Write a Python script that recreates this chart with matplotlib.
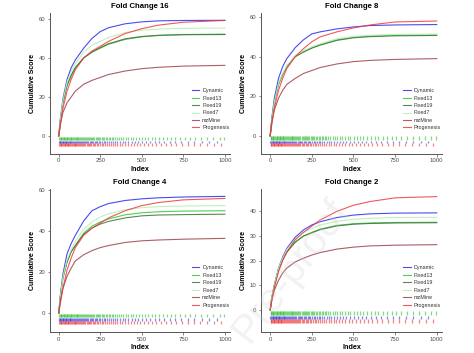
import matplotlib
matplotlib.use("Agg")
import matplotlib.pyplot as plt

plt.rcParams['font.family'] = ['Liberation Sans', 'DejaVu Sans']

# ---------------- data ----------------
index_pts = [0, 10, 25, 50, 75, 100, 150, 200, 250, 300, 400, 500, 600, 750, 1000]
methods = ["Dynamic", "Fixed13", "Fixed19", "Fixed7", "mzMine", "Progenesis"]
titles = ["Fold Change 16", "Fold Change 8", "Fold Change 4", "Fold Change 2"]

fc16_dynamic = [0, 9, 19, 29, 35, 39, 45, 50, 53.5, 55.5, 57.5, 58.5, 59, 59.2, 59.3]
fc16_fixed13 = [0, 8, 17, 26, 31, 35, 40, 43, 45, 47, 49.5, 50.8, 51.5, 52, 52.2]
fc16_fixed19 = [0, 8, 17, 26, 31, 35, 40, 43, 45.3, 47.3, 49.8, 51, 51.6, 51.9, 52]
fc16_fixed7 = [0, 8.5, 18, 27.5, 33, 37, 43, 46.5, 48.5, 50.5, 53, 54.2, 54.8, 55.2, 55.3]
fc16_mzmine = [0, 6, 12, 17, 20, 23, 26.5, 28.5, 30, 31.5, 33.3, 34.5, 35.2, 35.8, 36.2]
fc16_progenesis = [0, 6, 14, 23, 29, 34, 40, 43.5, 46, 48.5, 52.5, 55, 56.8, 58.3, 59.2]

fc8_dynamic = [0, 9, 19, 29, 35, 39, 44.5, 48.5, 51.5, 52.5, 54, 55, 55.7, 56, 56.2]
fc8_fixed13 = [0, 8, 17, 26, 31, 35, 40, 42.5, 44.5, 46, 48.5, 49.8, 50.4, 50.8, 51]
fc8_fixed19 = [0, 8, 17, 26, 31, 35, 40, 42.3, 44.3, 45.8, 48.2, 49.5, 50.1, 50.5, 50.7]
fc8_fixed7 = [0, 8, 17, 26.5, 31.5, 35.5, 40.5, 43, 45, 46.5, 49, 50.2, 50.8, 51.2, 51.4]
fc8_mzmine = [0, 7, 13, 19, 23, 26, 29, 31.5, 33, 34.5, 36.3, 37.5, 38.1, 38.6, 39]
fc8_progenesis = [0, 6, 14, 23, 29, 34, 40, 44, 47.5, 50, 52.5, 54.5, 56, 57.5, 58]

fc4_dynamic = [0, 9, 19, 29, 34, 38, 45, 50, 52, 53.5, 55, 55.8, 56.3, 56.7, 57]
fc4_fixed13 = [0, 8, 17, 25, 30, 33, 39, 42.5, 44.5, 46, 48, 49, 49.5, 49.8, 50]
fc4_fixed19 = [0, 8, 17, 25, 30, 33, 38.5, 41.5, 43.5, 44.8, 46.5, 47.5, 47.9, 48.1, 48.3]
fc4_fixed7 = [0, 8, 17.5, 26, 31, 35, 41, 44.5, 47, 48.5, 50.5, 51.5, 52, 52.3, 52.5]
fc4_mzmine = [0, 6, 12, 18, 22, 25.5, 28.5, 30.5, 32, 33, 34.5, 35.3, 35.7, 36.1, 36.5]
fc4_progenesis = [0, 5, 12, 21, 27, 32, 38, 41.5, 44, 46.5, 50, 52.5, 54, 55.3, 56]

fc2_dynamic = [0, 5, 10, 17, 21.5, 25, 29.5, 32.5, 34.5, 35.8, 37.5, 38.5, 39, 39.3, 39.4]
fc2_fixed13 = [0, 5, 10, 16.5, 20.5, 23.5, 27.5, 30, 31.5, 32.8, 34.3, 35, 35.3, 35.5, 35.6]
fc2_fixed19 = [0, 5, 10, 16.5, 20.5, 23.5, 27.5, 30, 31.3, 32.6, 34.1, 34.8, 35.1, 35.3, 35.4]
fc2_fixed7 = [0, 5, 10, 17, 21, 24.5, 28.5, 31.5, 33, 34.5, 36, 36.8, 37.2, 37.5, 37.6]
fc2_mzmine = [0, 4, 8, 12, 15, 17, 19.5, 21, 22.3, 23.3, 24.7, 25.5, 26, 26.3, 26.5]
fc2_progenesis = [0, 4, 9, 15.5, 20, 23.5, 28.5, 31.5, 34, 36.5, 40, 42.5, 44, 45.5, 46]

# rug positions (indices of hits) shown below zero
rug_green = [2, 6, 11, 15, 19, 24, 29, 33, 38, 42, 47, 52, 57, 61, 66, 71, 75, 80, 86, 91,
             96, 101, 107, 112, 118, 123, 129, 134, 140, 146, 152, 158, 163, 170, 176, 182,
             189, 195, 202, 208, 215, 222, 229, 236, 243, 251, 258, 266, 274, 282, 291, 300,
             309, 318, 328, 338, 349, 362, 375, 389, 402, 418, 433, 448, 466, 482, 501, 520,
             538, 560, 581, 603, 627, 650, 676, 702, 730, 758, 788, 820, 856, 893, 930, 968, 995]
rug_blue = [1, 5, 9, 14, 18, 23, 27, 32, 37, 41, 46, 51, 56, 60, 65, 70, 75, 81, 86, 92,
            97, 103, 109, 114, 120, 126, 132, 139, 145, 151, 158, 165, 172, 179, 186, 194,
            201, 209, 217, 225, 233, 242, 251, 261, 270, 280, 291, 302, 314, 326, 339, 353,
            368, 384, 401, 419, 438, 458, 479, 502, 526, 551, 578, 606, 636, 668, 702, 738,
            776, 817, 860, 905, 950]
rug_red = [3, 7, 12, 16, 21, 25, 30, 35, 39, 44, 49, 54, 58, 63, 68, 73, 78, 84, 89, 95,
           100, 106, 111, 117, 123, 129, 135, 141, 148, 154, 161, 168, 175, 182, 190, 197,
           205, 213, 221, 230, 239, 248, 258, 268, 278, 289, 300, 312, 324, 337, 351, 366,
           381, 397, 414, 432, 451, 471, 492, 514, 537, 561, 587, 614, 643, 673, 705, 739,
           775, 812, 852, 893, 935, 975]

panels = [
    [fc16_dynamic, fc16_fixed13, fc16_fixed19, fc16_fixed7, fc16_mzmine, fc16_progenesis],
    [fc8_dynamic, fc8_fixed13, fc8_fixed19, fc8_fixed7, fc8_mzmine, fc8_progenesis],
    [fc4_dynamic, fc4_fixed13, fc4_fixed19, fc4_fixed7, fc4_mzmine, fc4_progenesis],
    [fc2_dynamic, fc2_fixed13, fc2_fixed19, fc2_fixed7, fc2_mzmine, fc2_progenesis],
]

# ---------------- style ----------------
colors = ["#2b2bf0", "#2ccc2c", "#3f6f3f", "#b9efb9", "#a0404c", "#f03a3a"]
line_alpha = [0.85, 0.85, 0.85, 0.9, 0.85, 0.85]

positions = [
    [0.105, 0.564, 0.380, 0.399],
    [0.551, 0.564, 0.381, 0.399],
    [0.105, 0.059, 0.380, 0.405],
    [0.551, 0.059, 0.381, 0.405],
]
ylims = [(-9.2, 63), (-9.1, 62), (-9.3, 60.5), (-9.0, 49)]
yticks = [[0, 20, 40, 60], [0, 20, 40, 60], [0, 20, 40, 60], [0, 10, 20, 30, 40]]

grey = "#4d4d4d"
fig = plt.figure(figsize=(4.74, 3.53), dpi=100)

for p in range(4):
    ax = fig.add_axes(positions[p])
    for m, name in enumerate(methods):
        ax.plot(index_pts, panels[p][m], color=colors[m], lw=0.8,
                alpha=line_alpha[m], label=name, zorder=3)
    # rugs
    ax.vlines(rug_green, -0.3, -2.0, colors="#22bb22", lw=0.9, alpha=0.55, zorder=2)
    ax.vlines(rug_blue, -2.4, -3.7, colors="#2222dd", lw=0.9, alpha=0.55, zorder=2)
    ax.vlines(rug_red, -3.8, -5.3, colors="#ee2222", lw=0.9, alpha=0.55, zorder=2)

    ax.set_xlim(-54, 1030)
    ax.set_ylim(*ylims[p])
    ax.set_xticks([0, 250, 500, 750, 1000])
    ax.set_yticks(yticks[p])
    for s in ["top", "right"]:
        ax.spines[s].set_visible(False)
    for s in ["left", "bottom"]:
        ax.spines[s].set_color("#555555")
        ax.spines[s].set_linewidth(0.7)
    ax.tick_params(axis="both", labelsize=4.3, colors="#555555", labelcolor=grey,
                   length=1.8, width=0.5, pad=1.5)
    ax.set_title(titles[p], fontsize=5.6, fontweight="bold", pad=4)
    ax.set_xlabel("Index", fontsize=5.2, fontweight="bold", labelpad=1.5)
    ax.set_ylabel("Cumulative Score", fontsize=5.0, fontweight="bold", labelpad=2)
    leg = ax.legend(loc="upper left", bbox_to_anchor=(0.77, 0.49), frameon=False,
                    fontsize=3.9, handlelength=1.4, handletextpad=0.5,
                    labelspacing=0.45, borderpad=0.1)
    for t in leg.get_texts():
        t.set_color("#333333")

fig.text(0.615, 0.235, "Pre-proof", fontsize=29, rotation=53, color="#cccccc",
         alpha=0.25, ha="center", va="center", zorder=10)

fig.savefig("out.png", dpi=100)
